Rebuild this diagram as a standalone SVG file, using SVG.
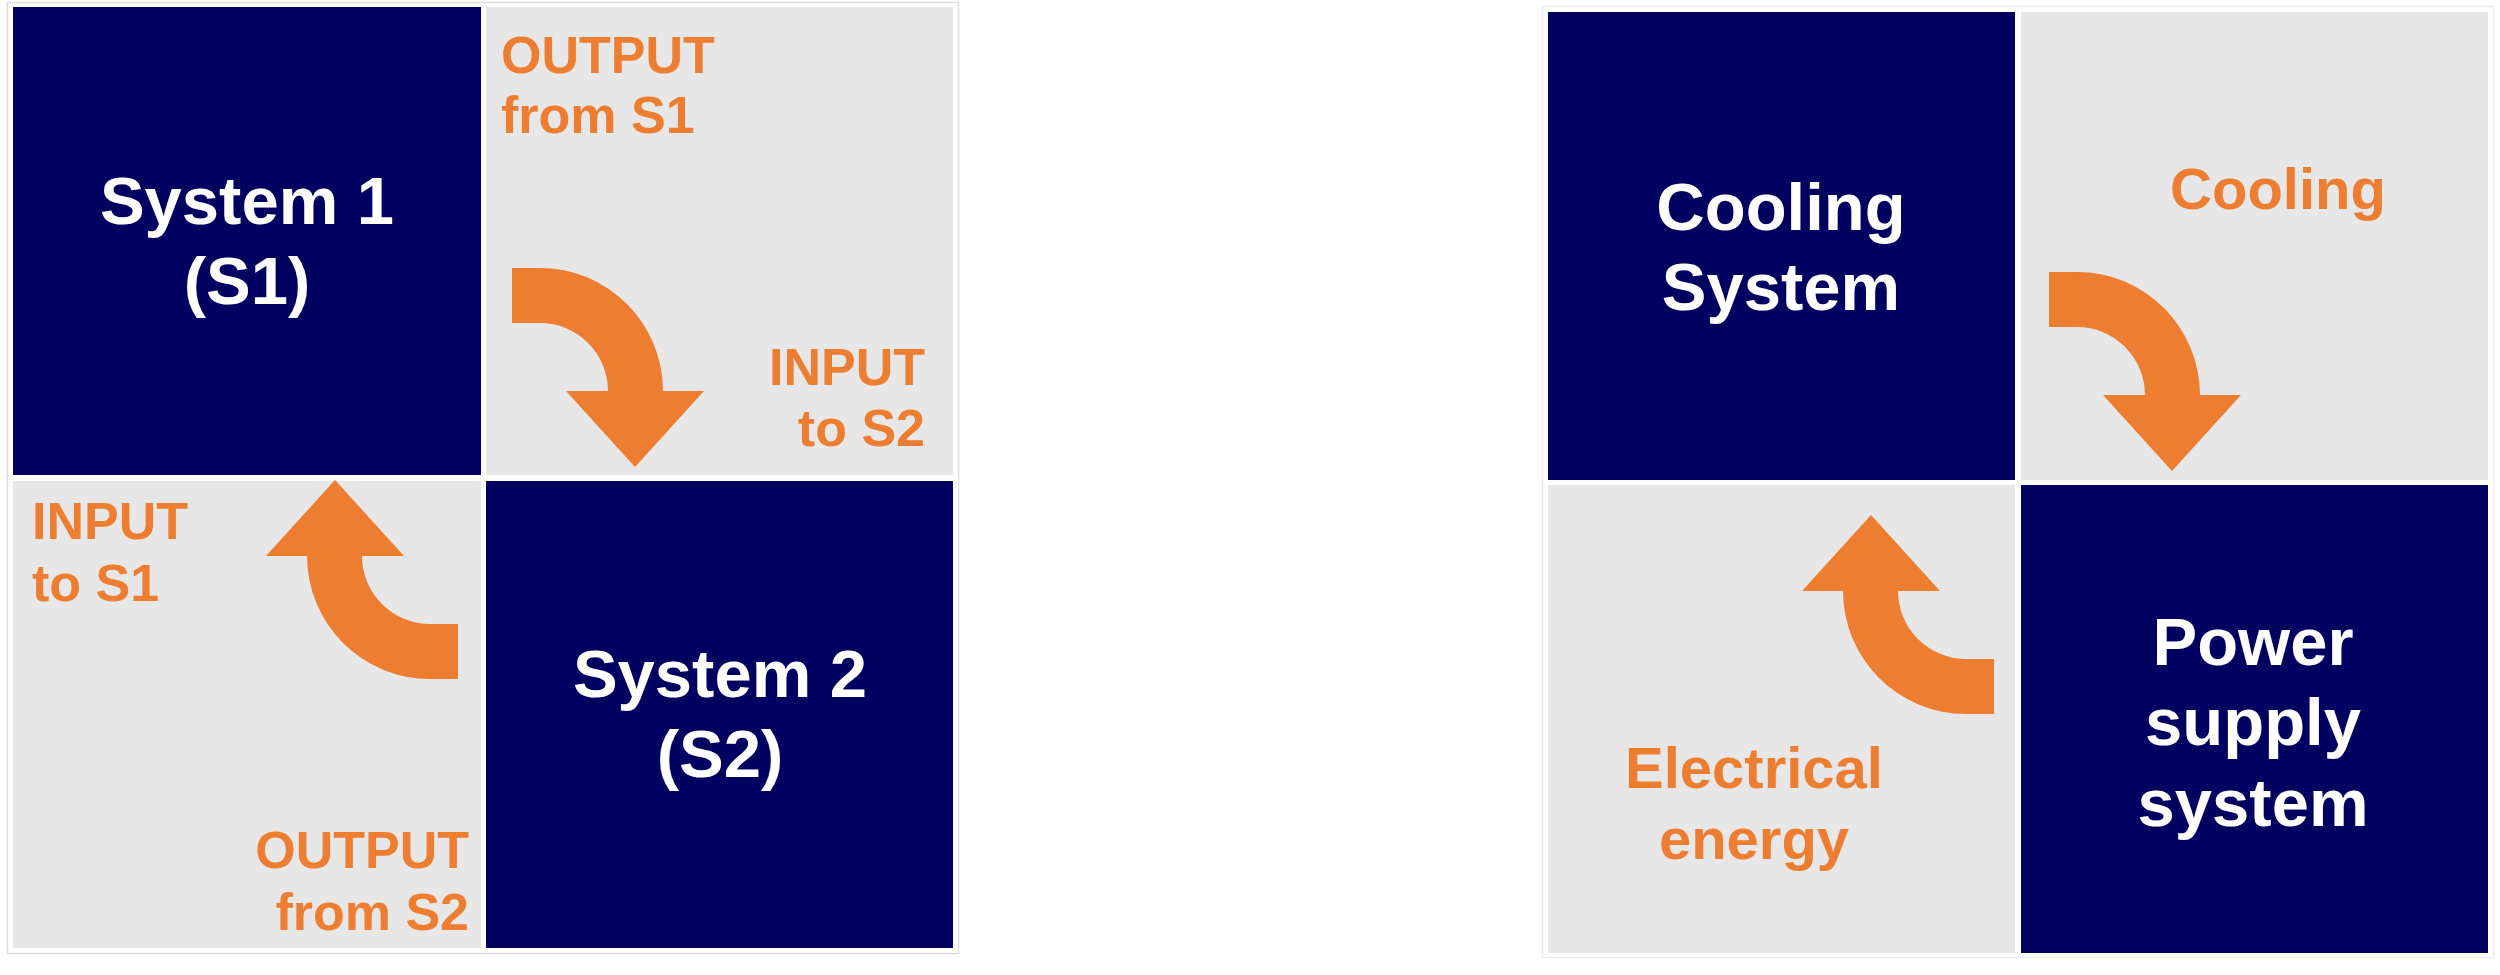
<svg xmlns="http://www.w3.org/2000/svg" width="2500" height="975" viewBox="0 0 2500 975">
<style>
.frame{fill:#ffffff;stroke:#dcdcdc;stroke-width:1.5}
.navy{fill:#000060}
.gray{fill:#e7e7e7}
.arrow{fill:#ed7d31}
.wt{font-family:"Liberation Sans",Arial,sans-serif;font-weight:bold;font-size:67px;fill:#ffffff;text-anchor:middle}
.ot{font-family:"Liberation Sans",Arial,sans-serif;font-weight:bold;font-size:52px;fill:#ed7d31}
.ot2{font-family:"Liberation Sans",Arial,sans-serif;font-weight:bold;font-size:58px;fill:#ed7d31;text-anchor:middle}
</style>
<defs>
<path id="curvedArrow" d="M512,268 H540 A123,123 0 0 1 663,391 H704 L635,467 L566,391 H608 A68,68 0 0 0 540,323 H512 Z"/>
</defs>
<rect width="2500" height="975" fill="#ffffff"/>

<!-- Left panel -->
<rect class="frame" x="7.5" y="2.5" width="951" height="951"/>
<g id="system1">
<rect class="navy" x="13" y="7" width="468" height="468"/>
<text class="wt" x="247" y="224">System 1</text>
<text class="wt" x="247" y="304">(S1)</text>
</g>
<g id="output-s1">
<rect class="gray" x="486" y="7" width="467" height="468"/>
<text class="ot" x="501" y="73">OUTPUT</text>
<text class="ot" x="501" y="133">from S1</text>
<text class="ot" x="925" y="385" text-anchor="end">INPUT</text>
<text class="ot" x="925" y="446" text-anchor="end">to S2</text>
</g>
<g id="input-s1">
<rect class="gray" x="13" y="481" width="468" height="467"/>
<text class="ot" x="32" y="539">INPUT</text>
<text class="ot" x="32" y="601">to S1</text>
<text class="ot" x="469" y="868" text-anchor="end">OUTPUT</text>
<text class="ot" x="469" y="930" text-anchor="end">from S2</text>
</g>
<g id="system2">
<rect class="navy" x="486" y="481" width="467" height="467"/>
<text class="wt" x="720" y="697">System 2</text>
<text class="wt" x="720" y="777">(S2)</text>
</g>

<!-- Right panel -->
<rect class="frame" x="1542.5" y="6.5" width="951" height="951" style="stroke:#ececec"/>
<g id="cooling-system">
<rect class="navy" x="1548" y="12" width="467" height="468"/>
<text class="wt" x="1781" y="230">Cooling</text>
<text class="wt" x="1781" y="310">System</text>
</g>
<g id="cooling">
<rect class="gray" x="2021" y="12" width="467" height="468"/>
<text class="ot2" x="2278" y="209">Cooling</text>
</g>
<g id="electrical-energy">
<rect class="gray" x="1548" y="485" width="467" height="468"/>
<text class="ot2" x="1754" y="788">Electrical</text>
<text class="ot2" x="1754" y="859">energy</text>
</g>
<g id="power-supply-system">
<rect class="navy" x="2021" y="485" width="467" height="468"/>
<text class="wt" x="2253" y="665">Power</text>
<text class="wt" x="2253" y="745">supply</text>
<text class="wt" x="2253" y="826">system</text>
</g>

<!-- Connectors -->
<g id="connectors">
<use href="#curvedArrow" class="arrow"/>
<use href="#curvedArrow" class="arrow" transform="rotate(180 485 473.5)"/>
<use href="#curvedArrow" class="arrow" transform="translate(1537 4)"/>
<use href="#curvedArrow" class="arrow" transform="translate(1536 35) rotate(180 485 473.5)"/>
</g>
</svg>
